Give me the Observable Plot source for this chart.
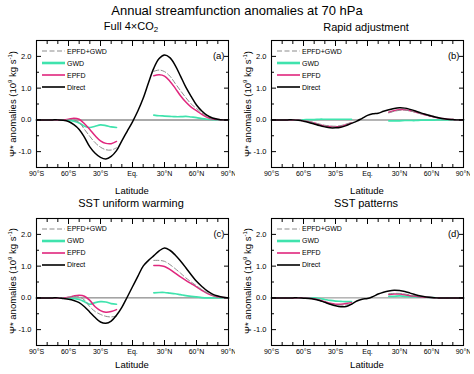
<!DOCTYPE html>
<html><head><meta charset="utf-8">
<script src="https://cdn.jsdelivr.net/npm/d3@7"></script>
<script src="https://cdn.jsdelivr.net/npm/@observablehq/plot@0.6"></script>
<style>
body{margin:0;background:#fff;}
#chart{position:relative;width:474px;height:374px;font-family:"Liberation Sans",Arial,Helvetica,sans-serif;color:#000;overflow:hidden;background:#fff}
.abs{position:absolute;white-space:nowrap;line-height:1}
.panel{position:absolute}
.legend{position:absolute;font-size:7px}
.lrow{display:flex;align-items:center;height:12px}
.lrow svg{display:block;margin-right:2px}
</style></head><body><div id="chart"></div>
<script>
// ---------- data ----------
const mainTitle = "Annual streamfunction anomalies at 70 hPa";
const panelTitles = ["Full 4×CO<sub style='font-size:8px;vertical-align:-2px'>2</sub>", "Rapid adjustment", "SST uniform warming", "SST patterns"];
const panelTags = ["(a)", "(b)", "(c)", "(d)"];
const seriesNames = ["EPFD+GWD", "GWD", "EPFD", "Direct"];
const xLabel = "Latitude";
const yLabel = "Ψ* anomalies (10<sup style='font-size:6px'>9</sup> kg s<sup style='font-size:6px'>-1</sup>)";
const xMajor = [-90, -60, -30, 0, 30, 60, 90];
const xTickLabels = ["90°S", "60°S", "30°S", "Eq.", "30°N", "60°N", "90°N"];
const xMinor = [-80, -70, -50, -40, -20, -10, 10, 20, 40, 50, 70, 80];
const yMajor = [-1, 0, 1, 2];
const yMinor = [-1.5, -0.5, 0.5, 1.5, 2.5];

const lat = [-90,-85,-80,-75,-70,-65,-60,-55,-50,-45,-40,-35,-30,-25,-20,-15,-10,-5,0,5,10,15,20,25,30,35,40,45,50,55,60,65,70,75,80,85,90];
// latitudes -90..-15 (SH part) and 20..90 (NH part) for the EPFD / GWD diagnostics
const gap = [null, null, null, null, null, null];

// (a) Full 4xCO2
const directA = [0,0,0,0,0,-0.01,-0.05,-0.15,-0.3,-0.55,-0.85,-1.05,-1.18,-1.23,-1.15,-0.97,-0.66,-0.36,-0.06,0.28,0.68,1.17,1.63,1.93,2.04,1.96,1.72,1.38,1.03,0.74,0.47,0.28,0.14,0.06,0.02,0,0];
const sumA_SH = [0,0,0,0,0,0,0.01,0,-0.08,-0.3,-0.52,-0.72,-0.86,-0.94,-0.95,-0.88];
const sumA_NH = [1.53,1.57,1.52,1.38,1.15,0.92,0.7,0.5,0.36,0.22,0.11,0.04,0.01,0,0];
const gwdA_SH = [0,0,0,0,0,0,-0.01,-0.04,-0.1,-0.2,-0.24,-0.2,-0.16,-0.18,-0.22,-0.24];
const gwdA_NH = [0.15,0.13,0.12,0.11,0.1,0.1,0.11,0.09,0.07,0.04,0.02,0.01,0,0,0];
const epfdA_SH = [0,0,0,0,0,0,0.02,0.05,0.02,-0.12,-0.3,-0.5,-0.66,-0.74,-0.75,-0.68];
const epfdA_NH = [1.39,1.42,1.38,1.22,1.0,0.76,0.56,0.4,0.29,0.17,0.08,0.03,0.01,0,0];

// (b) Rapid adjustment
const directB = [0,0,0,0,0,-0.01,-0.04,-0.08,-0.13,-0.18,-0.22,-0.25,-0.25,-0.23,-0.18,-0.11,-0.04,0.05,0.14,0.19,0.21,0.27,0.32,0.36,0.38,0.37,0.33,0.28,0.22,0.17,0.12,0.08,0.04,0.02,0.01,0,0];
const sumB_SH = [0,0,0,0,0,0,-0.02,-0.05,-0.09,-0.13,-0.17,-0.19,-0.2,-0.18,-0.13,-0.08];
const sumB_NH = [0.22,0.27,0.3,0.31,0.28,0.24,0.19,0.15,0.11,0.07,0.04,0.02,0.01,0,0];
const gwdB_SH = [0,0,0,0,0,0,0,0.01,0.01,0.02,0.02,0.02,0.02,0.02,0.02,0.02];
const gwdB_NH = [-0.03,-0.03,-0.03,-0.02,-0.02,-0.02,-0.01,-0.01,-0.01,0,0,0,0,0,0];
const epfdB_SH = [0,0,0,0,0,0,-0.03,-0.06,-0.1,-0.15,-0.19,-0.21,-0.22,-0.2,-0.15,-0.1];
const epfdB_NH = [0.24,0.29,0.32,0.32,0.29,0.25,0.2,0.15,0.11,0.07,0.04,0.02,0.01,0,0];

// (c) SST uniform warming
const directC = [0,0,0,0,0,-0.02,-0.04,-0.08,-0.15,-0.28,-0.45,-0.62,-0.76,-0.8,-0.73,-0.55,-0.3,0.02,0.35,0.68,1.0,1.18,1.33,1.48,1.57,1.5,1.35,1.16,0.95,0.73,0.52,0.36,0.22,0.12,0.06,0.02,0];
const sumC_SH = [0,0,0,0,0,0,0.02,0.04,0.03,-0.07,-0.28,-0.43,-0.52,-0.58,-0.6,-0.57];
const sumC_NH = [1.18,1.18,1.15,1.05,0.92,0.78,0.63,0.5,0.38,0.26,0.16,0.08,0.03,0.01,0];
const gwdC_SH = [0,0,0,0,0,0,0,-0.02,-0.05,-0.12,-0.2,-0.15,-0.12,-0.13,-0.18,-0.2];
const gwdC_NH = [0.16,0.17,0.17,0.15,0.13,0.1,0.07,0.05,0.03,0.01,0,0,0,0,0];
const epfdC_SH = [0,0,0,0,0,0,0.02,0.06,0.08,0.05,-0.08,-0.28,-0.4,-0.45,-0.43,-0.37];
const epfdC_NH = [1.02,1.02,0.99,0.9,0.78,0.66,0.55,0.45,0.35,0.24,0.14,0.07,0.03,0.01,0];

// (d) SST patterns
const directD = [0,0,0,0,0,0,-0.01,-0.02,-0.04,-0.08,-0.14,-0.2,-0.25,-0.28,-0.27,-0.2,-0.1,-0.04,-0.02,0.04,0.12,0.18,0.22,0.24,0.23,0.2,0.15,0.1,0.06,0.03,0.01,0,0,0,0,0,0];
const sumD_SH = [0,0,0,0,0,0,0,-0.01,-0.03,-0.08,-0.14,-0.19,-0.22,-0.23,-0.22,-0.2];
const sumD_NH = [0.13,0.14,0.14,0.12,0.09,0.06,0.04,0.02,0.01,0,0,0,0,0,0];
const gwdD_SH = [0,0,0,0,0,0,0,0,0,-0.02,-0.05,-0.08,-0.1,-0.11,-0.12,-0.12];
const gwdD_NH = [0.05,0.05,0.06,0.05,0.04,0.03,0.02,0.02,0.01,0,0,0,0,0,0];
const epfdD_SH = [0,0,0,0,0,0,0,-0.01,-0.03,-0.07,-0.12,-0.17,-0.2,-0.2,-0.18,-0.15];
const epfdD_NH = [0.11,0.12,0.12,0.1,0.07,0.05,0.03,0.02,0.01,0,0,0,0,0,0];

// ---------- build ----------
const join = (sh, nh) => [...sh, ...gap, ...nh];
const panelData = [
  {direct: directA, sum: join(sumA_SH, sumA_NH), gwd: join(gwdA_SH, gwdA_NH), epfd: join(epfdA_SH, epfdA_NH)},
  {direct: directB, sum: join(sumB_SH, sumB_NH), gwd: join(gwdB_SH, gwdB_NH), epfd: join(epfdB_SH, epfdB_NH)},
  {direct: directC, sum: join(sumC_SH, sumC_NH), gwd: join(gwdC_SH, gwdC_NH), epfd: join(epfdC_SH, epfdC_NH)},
  {direct: directD, sum: join(sumD_SH, sumD_NH), gwd: join(gwdD_SH, gwdD_NH), epfd: join(epfdD_SH, epfdD_NH)}
];

const styles = {
  sum: {stroke: "#8c8c8c", strokeWidth: 1, strokeDasharray: "5,2.5"},
  gwd: {stroke: "#3fe3ad", strokeWidth: 1.7},
  epfd: {stroke: "#e0267d", strokeWidth: 1.5},
  direct: {stroke: "#000", strokeWidth: 1.5}
};
const legendKeys = ["sum", "gwd", "epfd", "direct"];
const zeroStyles = [
  {stroke: "#aaaaaa", strokeWidth: 2},
  {stroke: "#b4b4b4", strokeWidth: 2},
  {stroke: "#6e6e6e", strokeWidth: 1},
  {stroke: "#8a8a8a", strokeWidth: 1}
];

const chart = document.getElementById("chart");
const font = "'Liberation Sans', Arial, Helvetica, sans-serif";
const W = 235, H = 190, colStep = 235, rowStep = 177.5;

function addText(html, x, y, size, rotate) {
  const d = document.createElement("div");
  d.className = "abs";
  d.innerHTML = html;
  d.style.left = x + "px";
  d.style.top = y + "px";
  d.style.fontSize = size + "px";
  d.style.transform = "translate(-50%,-50%)" + (rotate ? " rotate(-90deg)" : "");
  chart.appendChild(d);
}

addText(mainTitle, 237, 10, 13);

panelData.forEach((pd, i) => {
  const col = i % 2, row = Math.floor(i / 2);
  const ox = col * colStep, oy = row * rowStep;
  const rows = lat.map((l, k) => ({lat: l, direct: pd.direct[k], sum: pd.sum[k], gwd: pd.gwd[k], epfd: pd.epfd[k]}));
  const lineMark = key => Plot.line(rows, {x: "lat", y: key, curve: "catmull-rom", ...styles[key]});
  const fmtX = d => xTickLabels[xMajor.indexOf(d)];
  const svg = Plot.plot({
    width: W, height: H,
    marginLeft: 36, marginRight: W - 228, marginTop: 40, marginBottom: H - 167,
    x: {domain: [-90, 90]},
    y: {domain: [-1.5, 2.5]},
    style: {fontFamily: font, fontSize: "7px", background: "transparent", color: "#000"},
    marks: [
      Plot.ruleY([0], zeroStyles[i]),
      lineMark("gwd"),
      lineMark("epfd"),
      lineMark("sum"),
      lineMark("direct"),
      Plot.frame({stroke: "#000", strokeWidth: 1.1}),
      Plot.axisX(xMinor, {anchor: "bottom", tickSize: -3, fill: "none", label: null}),
      Plot.axisX(xMajor, {anchor: "bottom", tickSize: -5, fill: "none", label: null}),
      Plot.axisX(xMinor, {anchor: "top", tickSize: -3, fill: "none", label: null}),
      Plot.axisX(xMajor, {anchor: "top", tickSize: -5, fill: "none", label: null}),
      Plot.axisX(xMajor, {anchor: "bottom", tickSize: 0, tickPadding: 4, tickFormat: fmtX, fontSize: 7, label: null, stroke: "none"}),
      Plot.axisY(yMinor, {anchor: "left", tickSize: -3, fill: "none", label: null}),
      Plot.axisY(yMajor, {anchor: "left", tickSize: -5, fill: "none", label: null}),
      Plot.axisY(yMinor, {anchor: "right", tickSize: -3, fill: "none", label: null}),
      Plot.axisY(yMajor, {anchor: "right", tickSize: -5, fill: "none", label: null}),
      Plot.axisY(yMajor, {anchor: "left", tickSize: 0, tickPadding: 5, tickFormat: d => d.toFixed(1), fontSize: 7.5, label: null, stroke: "none"}),
      Plot.text([panelTags[i]], {frameAnchor: "top-right", text: d => d, dx: -4, dy: 12, fontSize: 9.5, textAnchor: "end"})
    ]
  });
  svg.classList.add("panel");
  svg.style.left = ox + "px";
  svg.style.top = oy + "px";
  chart.appendChild(svg);

  addText(panelTitles[i], 131 + ox, (row === 0 ? 27 : 203), 11);
  addText(xLabel, 132 + ox, (row === 0 ? 190.5 : 365), 9.5);
  addText(yLabel, 12 + ox, 103.5 + oy, 9.5, true);

  // legend
  const lg = document.createElement("div");
  lg.className = "legend";
  lg.style.left = (ox + 42) + "px";
  lg.style.top = (oy + 45) + "px";
  legendKeys.forEach((key, j) => {
    const st = styles[key];
    const r = document.createElement("div");
    r.className = "lrow";
    const w = key === "gwd" ? 2.6 : (key === "sum" ? 1.1 : 1.6);
    r.innerHTML = `<svg width="23" height="4"><line x1="0" y1="2" x2="23" y2="2" stroke="${st.stroke}" stroke-width="${w}" ${st.strokeDasharray ? `stroke-dasharray="${st.strokeDasharray}"` : ""}/></svg><span>${seriesNames[j]}</span>`;
    lg.appendChild(r);
  });
  chart.appendChild(lg);
});
</script>
</body></html>
